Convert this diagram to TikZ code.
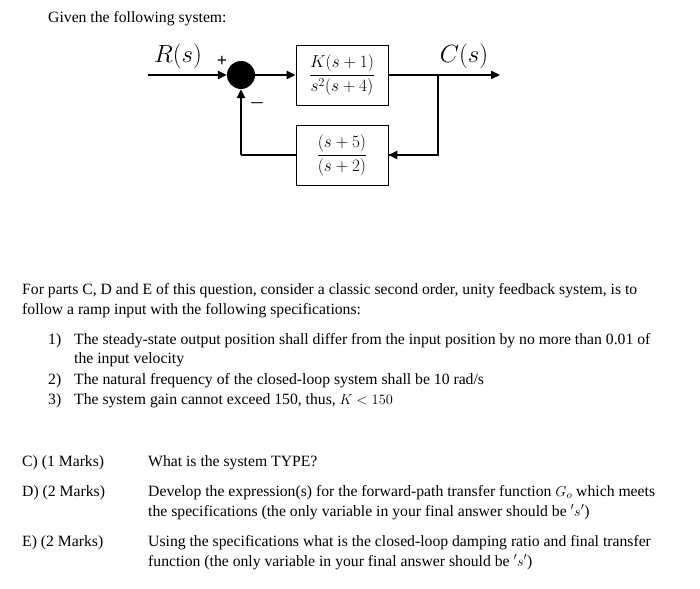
\documentclass[tikz,border=0pt]{standalone}
\usepackage{amsmath}
\usepackage{fontspec}
\setmainfont{Liberation Serif}
\usetikzlibrary{positioning,calc,arrows.meta}

\begin{document}
\begin{tikzpicture}[x=1pt,y=-1pt,
    blk/.style={draw, thick, minimum width=92pt, minimum height=60pt, font=\fontsize{16.5}{19}\selectfont},
    sig/.style={line width=2.6pt, -{Triangle[length=9pt,width=8pt]}},
    wire/.style={line width=2.6pt},
    txt/.style={anchor=base west, inner sep=0pt, font=\fontsize{15.7}{18}\selectfont}]
    \useasboundingbox (0,0) rectangle (700,588);
    % block diagram
    \node[blk] (G) at (342,75) {$\dfrac{K(s+1)}{s^2(s+4)}$};
    \node[blk] (H) at (342,155) {$\dfrac{(s+5)}{(s+2)}$};
    \node[circle, fill, minimum size=28pt, inner sep=0pt] (sum) at (241,75) {};
    \coordinate (in) at (148,75);
    \coordinate (out) at (500,75);
    \coordinate (br) at (438,75);
    \coordinate (fb) at (241,155);
    \draw[sig] (in) -- (sum);
    \draw[sig] (sum) -- (G);
    \draw[sig] (G) -- (out);
    \draw[wire] (br) |- (H.east) coordinate (hx);
    \draw[sig] ($(br)+(0,80)$) -- (H);
    \draw[wire] (H) -| (fb);
    \draw[sig] (fb) -- (sum);
    \node[font=\fontsize{23}{24}\selectfont] (Rs) at (178,56) {$R(s)$};
    \node[font=\fontsize{23}{24}\selectfont] (Cs) at (464,56) {$C(s)$};
    \node[font=\fontsize{18}{18}\selectfont\bfseries] (plus) at (222,61) {+};
    \node[font=\fontsize{18}{18}\selectfont\bfseries] (minus) at (257,103) {$\boldsymbol{-}$};
    % text
    \node[txt] (t0) at (48,23) {Given the following system:};
    \node[txt] (p1) at (22,294) {For parts C, D and E of this question, consider a classic second order, unity feedback system, is to};
    \node[txt] (p2) at (22,314) {follow a ramp input with the following specifications:};
    \node[txt] (n1) at (48,344) {1)};
    \node[txt] (s1) at (74,344) {The steady-state output position shall differ from the input position by no more than 0.01 of};
    \node[txt] (s1b) at (74,363) {the input velocity};
    \node[txt] (n2) at (48,384) {2)};
    \node[txt] (s2) at (74,384) {The natural frequency of the closed-loop system shall be 10 rad/s};
    \node[txt] (n3) at (48,404) {3)};
    \node[txt] (s3) at (74,404) {The system gain cannot exceed 150, thus, $K<150$};
    \node[txt] (qc) at (22,466) {C) (1 Marks)};
    \node[txt] (ac) at (148,466) {What is the system TYPE?};
    \node[txt] (qd) at (22,496) {D) (2 Marks)};
    \node[txt] (ad) at (148,496) {Develop the expression(s) for the forward-path transfer function $G_o$ which meets};
    \node[txt] (ad2) at (148,516) {the specifications (the only variable in your final answer should be $'s'$)};
    \node[txt] (qe) at (22,546) {E) (2 Marks)};
    \node[txt] (ae) at (148,546) {Using the specifications what is the closed-loop damping ratio and final transfer};
    \node[txt] (ae2) at (148,566) {function (the only variable in your final answer should be $'s'$)};
\end{tikzpicture}
\end{document}
